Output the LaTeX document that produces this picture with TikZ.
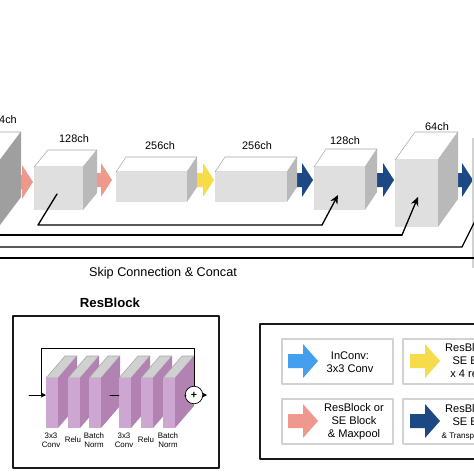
\documentclass[tikz,border=0pt]{standalone}
\usepackage{fontspec}
\setmainfont{Liberation Sans}
\usetikzlibrary{arrows.meta}
\definecolor{pinkarr}{RGB}{238,152,142}
\definecolor{yelarr}{RGB}{246,220,74}
\definecolor{bluearr}{RGB}{68,160,238}
\definecolor{navyarr}{RGB}{28,72,132}
\definecolor{slabfront}{RGB}{206,166,210}
\definecolor{slabside}{RGB}{178,130,178}
\definecolor{slabtop}{RGB}{208,208,208}
% cuboid: x, y (front top left), w, h, dx, dy, front, side, top
\newcommand\cuboid[9]{%
  \filldraw[fill=#9, draw=gray!70, line width=.3pt] (#1,#2) -- ++(#5,-#6) -- ++(#3,0) -- ++(-#5,#6) -- cycle;
  \fill[#8] (#1+#3,#2) -- ++(#5,-#6) -- ++(0,#4) -- ++(-#5,#6) -- cycle;
  \fill[#7] (#1,#2) rectangle ++(#3,#4);}
% block arrow: x, centre y, shaft, head, colour
\newcommand\fatarrow[5]{%
  \fill[#5] (#1,#2-7) -- ++(#3,0) -- ++(0,-10) -- ++(#4,17) -- ++(-#4,17) -- ++(0,-10) -- ++(-#3,0) -- cycle;}
\begin{document}
\begin{tikzpicture}[x=0.02cm, y=-0.02cm, >={Stealth[length=5pt,width=4.5pt]}, line join=round, line cap=round,
    chlabel/.style={font=\fontsize{6.2}{7}\selectfont},
    skip/.style={line width=.75pt},
    legtext/.style={font=\fontsize{6.3}{7.4}\selectfont, align=center},
    legbox/.style={draw=gray!35, line width=.6pt, fill=white},
    slablabel/.style={font=\fontsize{4.5}{5}\selectfont, align=center}]
  \useasboundingbox (0,0) rectangle (474,474);
  \clip (0,0) rectangle (474,474);
  % pipeline
  \fatarrow{12}{182}{10}{11}{pinkarr}
  \fatarrow{91}{180}{10}{11}{pinkarr}
  \fatarrow{195}{180}{8}{11}{yelarr}
  \fatarrow{293}{180}{9}{11}{navyarr}
  \fatarrow{373}{180}{10}{11}{navyarr}
  \fatarrow{452}{180}{10}{11}{navyarr}
  \cuboid{-43}{160}{43}{65}{21}{28}{gray!25}{gray!75}{white}
  \cuboid{34}{167}{49}{43}{14}{17}{gray!25}{gray!55}{white}
  \cuboid{116}{172}{71}{30}{10}{15}{gray!25}{gray!55}{white}
  \cuboid{215}{172}{72}{30}{10}{15}{gray!25}{gray!55}{white}
  \cuboid{314}{167}{51}{43}{12}{18}{gray!25}{gray!55}{white}
  \cuboid{395}{160}{43}{67}{20}{28}{gray!25}{gray!55}{white}
  \fill[gray!35] (472,138) rectangle (480,268);
  \node[chlabel] (c1) at (5,120) {64ch};
  \node[chlabel] (c2) at (74,139) {128ch};
  \node[chlabel] (c3) at (160,146) {256ch};
  \node[chlabel] (c4) at (257,146) {256ch};
  \node[chlabel] (c5) at (345,141) {128ch};
  \node[chlabel] (c6) at (437,127) {64ch};
  % skip connections
  \coordinate (s2) at (57,194);
  \coordinate (t5) at (338,195);
  \coordinate (t6) at (418,197);
  \coordinate (t7) at (476,219);
  \draw[skip] (s2) -- (38,225) -- (322,225);
  \draw[skip,->] (322,225) -- (t5);
  \draw[skip] (-5,235) -- (402,235);
  \draw[skip,->] (402,235) -- (t6);
  \draw[skip] (-5,247) -- (462,247) -- (t7);
  \draw[skip] (-5,258) -- (480,258);
  \node[font=\fontsize{7.2}{8}\selectfont] (skiplabel) at (163,273) {Skip Connection \& Concat};
  % resblock
  \node[font=\bfseries\fontsize{7.5}{8}\selectfont] (rbtitle) at (110,303) {ResBlock};
  \draw[line width=.7pt, gray!20!black] (13,316) rectangle (219,468);
  \foreach \x/\lab [count=\i] in {46/{3x3\\Conv}, 68/{Relu}, 89/{Batch\\Norm}, 119/{3x3\\Conv}, 141/{Relu}, 163/{Batch\\Norm}}{
    \cuboid{\x}{378}{12}{50}{19}{22}{slabfront}{slabside}{slabtop}
    \node[slablabel] (lab\i) at (\x+5,440) {\lab};
  }
  \node[draw, circle, fill=white, inner sep=0pt, minimum size=10pt, font=\fontsize{6}{6}\selectfont\bfseries] (plus) at (194,395) {+};
  \coordinate (rbin) at (29,395);
  \coordinate (rbout) at (207,395);
  \draw[-{Stealth[length=3pt,width=3pt]}, line width=.4pt] (rbin) -- (46,395);
  \draw[line width=.4pt] (41,395) -- (41,348) -- (194,348) -- (plus.north);
  \draw[line width=.4pt] (110,395) -- (119,395);
  \draw[line width=.4pt] (186,395) -- (plus.west);
  \draw[-{Stealth[length=3pt,width=3pt]}, line width=.4pt] (plus.east) -- (rbout);
  % legend
  \draw[line width=1pt, gray!20!black] (260,324) rectangle (490,459);
  \draw[legbox] (282,339) rectangle (393,384);
  \draw[legbox] (403,339) rectangle (520,384);
  \draw[legbox] (282,399) rectangle (393,444);
  \draw[legbox] (403,399) rectangle (520,444);
  \fatarrow{288}{361}{15}{15}{bluearr}
  \fatarrow{410}{361}{15}{15}{yelarr}
  \fatarrow{288}{421}{15}{15}{pinkarr}
  \fatarrow{410}{421}{15}{15}{navyarr}
  \node[legtext] (inconv) at (350,362) {InConv:\\3x3 Conv};
  \node[legtext] (down) at (354,422) {ResBlock or\\SE Block\\\& Maxpool};
  \node[legtext] (mid) at (475,362) {ResBlock or\\SE Block\\x 4 repeat};
  \node[legtext] (up) at (475,422) {ResBlock or\\SE Block\\{\fontsize{4.6}{5}\selectfont\& Transpose Conv}};
\end{tikzpicture}
\end{document}
